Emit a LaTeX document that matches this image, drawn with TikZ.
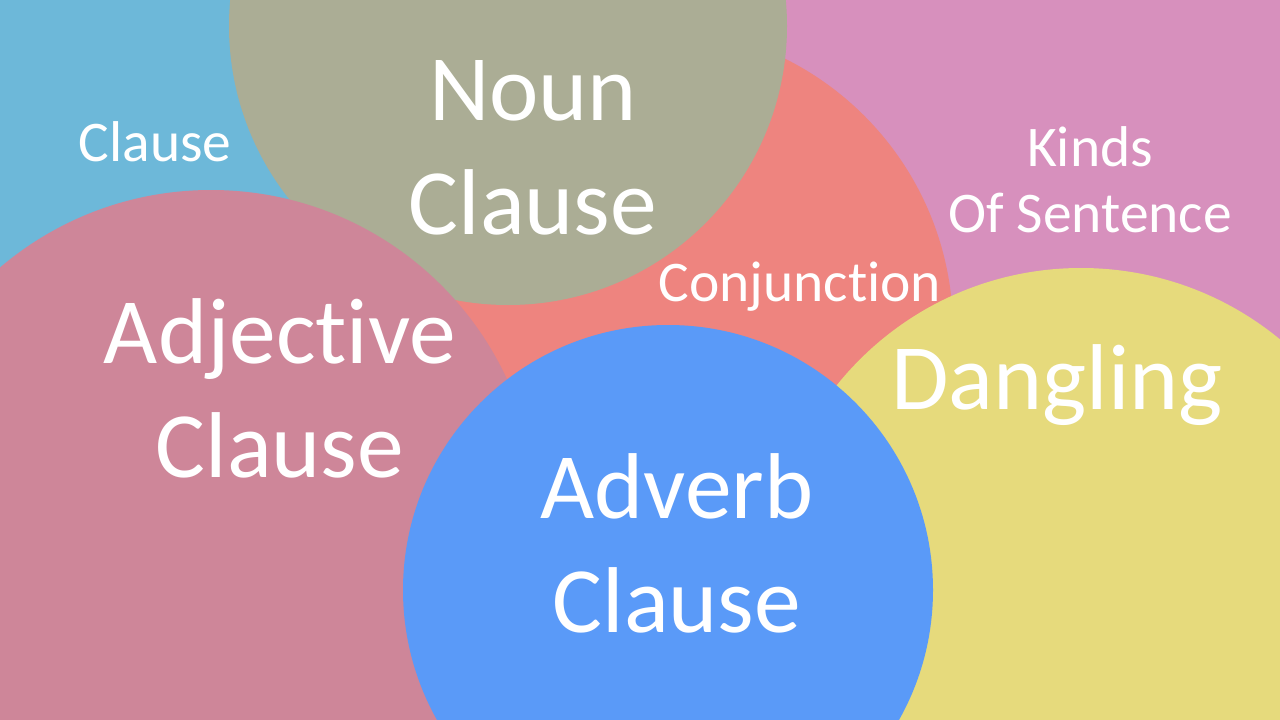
\documentclass[tikz,border=0pt]{standalone}
\usepackage{fontspec}
\setmainfont{Carlito}[Ligatures={NoCommon,NoContextual,NoRare}, Contextuals={NoAlternate}]
\usepackage{xcolor}
\usepackage{tikz}
\definecolor{skyblue}{HTML}{6DB8D9}
\definecolor{orchid}{HTML}{D790BD}
\definecolor{salmon}{HTML}{EE847F}
\definecolor{olive}{HTML}{ABAD95}
\definecolor{rosewood}{HTML}{CE8699}
\definecolor{cornflower}{HTML}{5A9AF8}
\definecolor{khaki}{HTML}{E6DA7C}
\tikzset{
  bigtext/.style={text=white, align=center, inner sep=0pt, font=\fontsize{93.5}{114}\selectfont},
  smalltext/.style={text=white, align=center, inner sep=0pt, font=\fontsize{57.5}{66}\selectfont},
}

\begin{document}
\begin{tikzpicture}[x=1pt, y=-1pt]
  \useasboundingbox (0,0) rectangle (1280,720);
  \clip (0,0) rectangle (1280,720);

  % circles, back to front
  \fill[skyblue] (100,80) circle[radius=300pt];
  \fill[orchid] (1150,120) circle[radius=400pt];
  \fill[salmon] (650,330) circle[radius=303pt];
  \fill[olive] (508,26) circle[radius=279pt];
  \fill[rosewood] (211,516) circle[radius=326pt];
  \fill[khaki] (1081,581) circle[radius=313pt];
  \fill[cornflower] (668,590) circle[radius=265pt];

  % texts
  \node[smalltext] (clause) at (155,142) {Clause};
  \node[bigtext] (noun) at (533,148) {Noun\\Clause};
  \node[smalltext] (kinds) at (1090,180) {Kinds\\Of Sentence};
  \node[smalltext] (conj) at (800,287) {Conjunction};
  \node[bigtext] (adjective) at (280,388) {Adjective\\Clause};
  \node[bigtext] (dangling) at (1057,385) {Dangling};
  \node[bigtext] (adverb) at (677,543) {Adverb\\Clause};
\end{tikzpicture}
\end{document}
